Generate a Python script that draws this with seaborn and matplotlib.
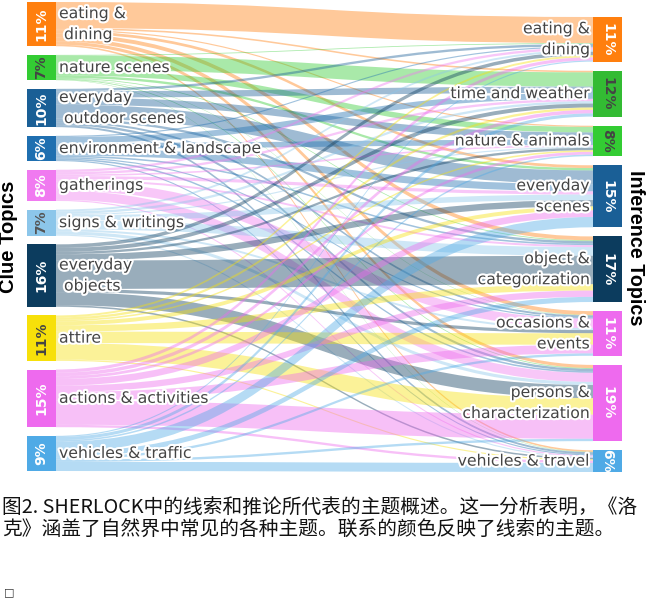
import numpy as np
import matplotlib
matplotlib.use("Agg")
import matplotlib.pyplot as plt
from matplotlib.path import Path
from matplotlib.patches import PathPatch, Rectangle
import matplotlib.patheffects as pe
import seaborn as sns

# ---------------- data ----------------
clue_topics = ["eating &\n dining", "nature scenes", "everyday\n outdoor scenes",
               "environment & landscape", "gatherings", "signs & writings",
               "everyday\n objects", "attire", "actions & activities", "vehicles & traffic"]
clue_pct = ["11%", "7%", "10%", "6%", "8%", "7%", "16%", "11%", "15%", "9%"]

inference_topics = ["eating &\ndining", "time and weather", "nature & animals",
                    "everyday\nscenes", "object &\ncategorization", "occasions &\nevents",
                    "persons &\ncharacterization", "vehicles & travel"]
inference_pct = ["11%", "12%", "8%", "15%", "17%", "11%", "19%", "6%"]

# flow shares (rows: clue topics, cols: inference topics)
flow_eating      = [6.6, 0.4, 0.3, 0.7, 1.0, 1.0, 0.8, 0.4]
flow_nature      = [0.2, 3.6, 1.4, 0.6, 0.2, 0.1, 0.2, 0.1]
flow_outdoor     = [0.6, 1.6, 1.8, 3.5, 0.6, 0.5, 0.6, 0.5]
flow_environment = [0.3, 1.5, 1.4, 1.8, 0.4, 0.3, 0.4, 0.3]
flow_gatherings  = [0.6, 0.6, 0.4, 0.8, 0.5, 2.4, 2.3, 0.3]
flow_signs       = [0.5, 0.6, 0.3, 1.4, 2.2, 0.5, 0.8, 0.3]
flow_objects     = [0.9, 1.0, 0.6, 1.6, 7.2, 0.8, 3.3, 0.4]
flow_attire      = [0.5, 0.6, 0.4, 1.0, 1.6, 2.9, 4.2, 0.3]
flow_actions     = [0.8, 0.9, 0.7, 1.7, 1.6, 2.2, 6.1, 0.6]
flow_vehicles    = [0.3, 0.8, 0.4, 2.6, 1.3, 0.6, 0.6, 2.3]

clue_colors = ["#ff7f0e", "#33cc33", "#1a5f96", "#1f6fb0", "#f07af0",
               "#8cc6ea", "#0c3c5e", "#f7e00a", "#ee6aee", "#4faae6"]
inference_colors = ["#ff7f0e", "#33bb33", "#33cc33", "#1a5f96", "#0c3c5e",
                    "#ee6aee", "#ee6aee", "#4faae6"]
clue_pct_color = ["white", "#444444", "white", "white", "white", "#555555",
                  "white", "#444444", "white", "white"]
inf_pct_color = ["white", "#444444", "#444444", "white", "white", "white", "white", "white"]

caption_1 = "图2. SHERLOCK中的线索和推论所代表的主题概述。这一分析表明，《洛"
caption_2 = "克》涵盖了自然界中常见的各种主题。联系的颜色反映了线索的主题。"

# ---------------- layout ----------------
sns.set_theme(style="white")
plt.rcParams['font.family'] = ['DejaVu Sans']

flows = np.array([flow_eating, flow_nature, flow_outdoor, flow_environment, flow_gatherings,
                  flow_signs, flow_objects, flow_attire, flow_actions, flow_vehicles])
src_tot = flows.sum(axis=1)
tgt_tot = flows.sum(axis=0)
total = flows.sum()

k = 3.95  # px per percent
L_x0, L_x1 = 27, 56
R_x0, R_x1 = 593, 622
L_top, L_bot = 2, 471
R_top, R_bot = 17, 472
L_gap = (L_bot - L_top - total * k) / (len(src_tot) - 1)
R_gap = (R_bot - R_top - total * k) / (len(tgt_tot) - 1)

L_y = L_top + np.concatenate([[0], np.cumsum(src_tot * k + L_gap)[:-1]])
R_y = R_top + np.concatenate([[0], np.cumsum(tgt_tot * k + R_gap)[:-1]])

fig = plt.figure(figsize=(6.46, 6.0), dpi=100)
ax = fig.add_axes([0, 0, 1, 1])
ax.set_xlim(0, 646)
ax.set_ylim(600, 0)
ax.axis("off")

# link offsets
src_off = L_y.copy()
tgt_start = np.zeros_like(flows)
for j in range(flows.shape[1]):
    off = R_y[j]
    for i in range(flows.shape[0]):
        tgt_start[i, j] = off
        off += flows[i, j] * k

xm = (L_x1 + R_x0) / 2
for i in range(flows.shape[0]):
    for j in range(flows.shape[1]):
        v = flows[i, j]
        h = v * k
        ys = src_off[i]
        yt = tgt_start[i, j]
        src_off[i] += h
        verts = [(L_x1, ys), (xm, ys), (xm, yt), (R_x0, yt),
                 (R_x0, yt + h), (xm, yt + h), (xm, ys + h), (L_x1, ys + h), (L_x1, ys)]
        codes = [Path.MOVETO, Path.CURVE4, Path.CURVE4, Path.CURVE4,
                 Path.LINETO, Path.CURVE4, Path.CURVE4, Path.CURVE4, Path.CLOSEPOLY]
        ax.add_patch(PathPatch(Path(verts, codes), facecolor=clue_colors[i],
                               edgecolor="none", alpha=0.42, zorder=1))

halo = [pe.withStroke(linewidth=3, foreground="white")]

for i, name in enumerate(clue_topics):
    h = src_tot[i] * k
    ax.add_patch(Rectangle((L_x0, L_y[i]), L_x1 - L_x0, h, facecolor=clue_colors[i],
                           edgecolor="none", zorder=3))
    ax.text((L_x0 + L_x1) / 2, L_y[i] + h / 2, clue_pct[i], rotation=90, ha="center",
            va="center", color=clue_pct_color[i], fontsize=10, fontweight="bold", zorder=4)
    ax.text(L_x1 + 3, L_y[i] + h / 2, name, ha="left", va="center", color="#444444",
            fontsize=11.3, linespacing=1.5, path_effects=halo, zorder=5)

for j, name in enumerate(inference_topics):
    h = tgt_tot[j] * k
    ax.add_patch(Rectangle((R_x0, R_y[j]), R_x1 - R_x0, h, facecolor=inference_colors[j],
                           edgecolor="none", zorder=3))
    ax.text((R_x0 + R_x1) / 2, R_y[j] + h / 2, inference_pct[j], rotation=-90, ha="center",
            va="center", color=inf_pct_color[j], fontsize=10, fontweight="bold", zorder=4)
    ax.text(R_x0 - 3, R_y[j] + h / 2, name, ha="right", va="center", color="#444444",
            fontsize=11.3, linespacing=1.5, path_effects=halo, zorder=5)

ax.text(9, 237, "Clue Topics", rotation=90, ha="center", va="center", fontsize=14.5,
        fontweight="bold", family=["Liberation Sans", "DejaVu Sans"], color="black")
ax.text(636, 248, "Inference Topics", rotation=-90, ha="center", va="center", fontsize=14.2,
        fontweight="bold", family=["Liberation Sans", "DejaVu Sans"], color="black")

cjk = ["Noto Sans CJK SC", "DejaVu Sans"]
ax.text(2, 508, caption_1, ha="left", va="center", fontsize=14.2, family=cjk, color="#111111")
ax.text(2, 530, caption_2, ha="left", va="center", fontsize=14.2, family=cjk, color="#111111")
ax.text(4, 592, "□", ha="left", va="center", fontsize=8, family=["DejaVu Sans"], color="#333333")

fig.savefig("out.png", dpi=100)
